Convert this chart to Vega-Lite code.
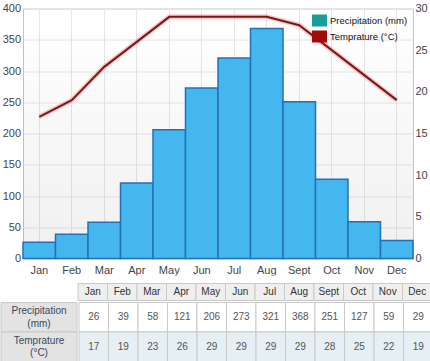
{
  "$schema": "https://vega.github.io/schema/vega-lite/v6.json",
  "padding": {"left": 0, "top": 1.5, "right": 0, "bottom": 0},
  "background": "white",
  "config": {
    "font": "Liberation Sans",
    "view": {"stroke": null},
    "concat": {"spacing": 0},
    "axis": {"labelColor": "#444", "labelFontSize": 11, "ticks": false, "tickSize": 0, "domain": false, "title": null}
  },
  "datasets": {
    "climate": [
      {"month": "Jan", "precip": 26, "temp": 17},
      {"month": "Feb", "precip": 39, "temp": 19},
      {"month": "Mar", "precip": 58, "temp": 23},
      {"month": "Apr", "precip": 121, "temp": 26},
      {"month": "May", "precip": 206, "temp": 29},
      {"month": "Jun", "precip": 273, "temp": 29},
      {"month": "Jul", "precip": 321, "temp": 29},
      {"month": "Aug", "precip": 368, "temp": 29},
      {"month": "Sept", "precip": 251, "temp": 28},
      {"month": "Oct", "precip": 127, "temp": 25},
      {"month": "Nov", "precip": 59, "temp": 22},
      {"month": "Dec", "precip": 29, "temp": 19}
    ]
  },
  "columns": 1,
  "spacing": 0,
  "concat": [
    {
      "spacing": 0,
      "hconcat": [
        {
          "width": 20,
          "height": 250,
          "data": {"name": "climate"},
          "mark": {"type": "point", "opacity": 0},
          "encoding": {
            "y": {"field": "precip", "type": "quantitative", "scale": {"domain": [0, 400]}, "axis": {"orient": "left", "offset": -20, "values": [0,50,100,150,200,250,300,350,400], "grid": false, "labelPadding": 0.5}}
          }
        },
        {
          "width": 390,
          "height": 250,
          "view": {"stroke": "#c4c4c4", "fill": "#ffffff"},
          "data": {"name": "climate"},
          "layer": [
            {
              "data": {"values": [{}]},
              "mark": {"type": "rect", "fill": {"gradient": "linear", "x1": 0, "y1": 0, "x2": 0, "y2": 1, "stops": [{"offset": 0, "color": "rgba(0,0,0,0)"}, {"offset": 1, "color": "rgba(0,0,0,0.06)"}]}},
              "encoding": {}
            },
            {
              "mark": {"type": "bar", "fill": "#45b7ef", "stroke": "#2470b8", "strokeWidth": 1.5},
              "encoding": {
                "x": {"field": "month", "type": "ordinal", "sort": ["Jan","Feb","Mar","Apr","May","Jun","Jul","Aug","Sept","Oct","Nov","Dec"], "scale": {"paddingInner": 0, "paddingOuter": 0}, "axis": {"grid": true, "gridColor": "#e6e6e6", "bandPosition": 0.5, "labelPadding": 5.5, "labelAngle": 0}},
                "y": {"field": "precip", "type": "quantitative", "scale": {"domain": [0, 400]}, "axis": {"orient": "left", "values": [0,50,100,150,200,250,300,350,400], "grid": true, "gridColor": "#e6e6e6", "labels": false, "labelPadding": 0, "minExtent": 0}}
              }
            },
            {
              "encoding": {
                "x": {"field": "month", "type": "ordinal", "sort": ["Jan","Feb","Mar","Apr","May","Jun","Jul","Aug","Sept","Oct","Nov","Dec"]},
                "y": {"field": "temp", "type": "quantitative", "scale": {"domain": [0, 30]}, "axis": {"orient": "right", "values": [0,5,10,15,20,25,30], "grid": false, "labelPadding": 2}}
              },
              "layer": [
                {"mark": {"type": "line", "stroke": "#f08c8c", "strokeWidth": 5, "opacity": 0.45}},
                {"mark": {"type": "line", "stroke": "#7a1818", "strokeWidth": 2}}
              ]
            },
            {
              "mark": {"type": "square", "opacity": 0},
              "encoding": {
                "color": {
                  "datum": "Precipitation (mm)",
                  "type": "nominal",
                  "scale": {"domain": ["Precipitation (mm)", "Temprature (°C)"], "range": ["#169e98", "#a40c0c"]},
                  "legend": {"title": null, "orient": "none", "legendX": 312.5, "legendY": 6, "padding": 0, "symbolType": "M-1.25,-1H1.25V1H-1.25Z", "symbolSize": 144, "symbolStrokeWidth": 0, "symbolOpacity": 1, "labelFontSize": 9.5, "labelColor": "#111", "labelOffset": 4.5, "rowPadding": 4}
                }
              }
            }
          ],
          "resolve": {"scale": {"y": "independent"}, "axis": {"y": "independent"}}
        }
      ]
    },
    {
      "width": 430, "height": 7,
      "data": {"values": [{}]},
      "mark": {"type": "rect", "fill": "#ffffff", "strokeWidth": 0},
      "encoding": {}
    },
    {
      "spacing": 0,
      "hconcat": [
        {
          "width": 76, "height": 17,
          "data": {"values": [{}]},
          "mark": {"type": "rect", "fill": "#ffffff", "strokeWidth": 0},
          "encoding": {}
        },
        {
          "width": 354, "height": 17,
          "data": {"name": "climate"},
          "encoding": {
            "x": {"field": "month", "type": "ordinal", "sort": ["Jan","Feb","Mar","Apr","May","Jun","Jul","Aug","Sept","Oct","Nov","Dec"], "scale": {"paddingInner": 0, "paddingOuter": 0}, "axis": null}
          },
          "layer": [
            {"mark": {"type": "rect", "fill": "#efefef", "stroke": "#c9c9c9", "strokeWidth": 1}},
            {"mark": {"type": "text", "fontSize": 10, "color": "#333"}, "encoding": {"text": {"field": "month"}}}
          ]
        }
      ]
    },
    {
      "spacing": 0,
      "hconcat": [
        {
          "width": 76, "height": 59,
          "data": {"values": [
            {"key": "precip", "line1": "Precipitation", "line2": "(mm)"},
            {"key": "temp", "line1": "Temprature", "line2": "(°C)"}
          ]},
          "encoding": {
            "y": {"field": "key", "type": "nominal", "sort": ["precip", "temp"], "scale": {"paddingInner": 0, "paddingOuter": 0}, "axis": null}
          },
          "layer": [
            {"mark": {"type": "rect", "fill": "#e3e3e3", "stroke": "#c9c9c9", "strokeWidth": 1}},
            {"mark": {"type": "text", "fontSize": 10, "dy": -6.25, "color": "#34495e"}, "encoding": {"text": {"field": "line1"}}},
            {"mark": {"type": "text", "fontSize": 10, "dy": 6.25, "color": "#34495e"}, "encoding": {"text": {"field": "line2"}}}
          ]
        },
        {
          "width": 354, "height": 59,
          "data": {"name": "climate"},
          "transform": [{"fold": ["precip", "temp"], "as": ["key", "value"]}],
          "encoding": {
            "x": {"field": "month", "type": "ordinal", "sort": ["Jan","Feb","Mar","Apr","May","Jun","Jul","Aug","Sept","Oct","Nov","Dec"], "scale": {"paddingInner": 0, "paddingOuter": 0}, "axis": null},
            "y": {"field": "key", "type": "nominal", "sort": ["precip", "temp"], "scale": {"paddingInner": 0, "paddingOuter": 0}, "axis": null}
          },
          "layer": [
            {"mark": {"type": "rect", "stroke": "#c9c9c9", "strokeWidth": 1}, "encoding": {"fill": {"field": "key", "type": "nominal", "scale": {"domain": ["precip", "temp"], "range": ["#ffffff", "#e6eff4"]}, "legend": null}}},
            {"mark": {"type": "text", "fontSize": 10, "color": "#555"}, "encoding": {"text": {"field": "value", "type": "quantitative"}}}
          ]
        }
      ]
    }
  ]
}
